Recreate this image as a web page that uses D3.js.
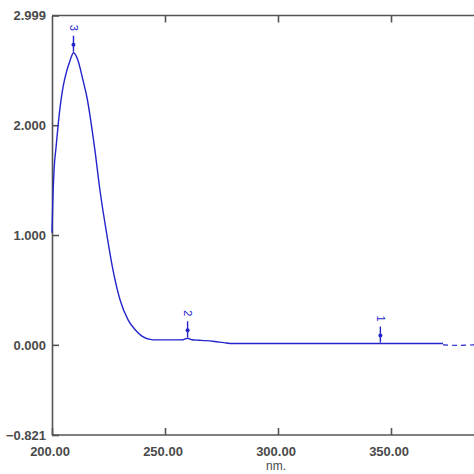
<!DOCTYPE html>
<html>
<head>
<meta charset="utf-8">
<script src="https://cdn.jsdelivr.net/npm/d3@7"></script>
<style>
  body { margin: 0; background: #fff; }
  svg { display: block; }
  .tick text { font-family: "Liberation Sans", Arial, sans-serif; font-size: 13px; font-weight: bold; fill: #4a4a4a; }
</style>
</head>
<body>
<svg id="chart" width="474" height="474"></svg>
<script>
// spectrum (wavelength nm, absorbance)
const wavelength = [200, 200.3, 200.9, 201.8, 202.7, 204.0, 204.9, 206.6, 208.0, 209.5,
  211.5, 213.7, 215.5, 216.8, 219.0, 221.2, 224.3, 227.0, 230.1, 233.6,
  236.7, 239.8, 243.4, 246, 250, 255, 258, 260, 262, 265,
  268, 272, 276, 280, 290, 300, 320, 340, 345, 360, 373];
const absorbance = [1.02, 1.27, 1.59, 1.80, 2.00, 2.23, 2.35, 2.50, 2.59, 2.66,
  2.59, 2.41, 2.25, 2.09, 1.77, 1.41, 1.00, 0.68, 0.41, 0.23,
  0.14, 0.08, 0.05, 0.045, 0.045, 0.045, 0.047, 0.06, 0.046, 0.042,
  0.038, 0.03, 0.02, 0.012, 0.012, 0.012, 0.012, 0.012, 0.012, 0.012, 0.012];

// noisy end of the scan
const tailWavelength = [373, 380, 388, 395, 402];
const tailAbsorbance = [0.0, -0.005, 0.0, -0.005, 0.0];

const peakLabels = ["1", "2", "3"];
const peakWavelength = [345.3, 260, 209.5];
const peakAbsorbance = [0.012, 0.06, 2.66];

const xTicks = [200, 250, 300, 350];
const yTicks = [-0.821, 0, 1, 2, 2.999];

const svg = d3.select("#chart");
const m = { left: 52, right: 504, top: 15.5, bottom: 435 };

const x = d3.scaleLinear().domain([200, 400]).range([m.left, m.right]);
const y = d3.scaleLinear().domain([-0.821, 2.999]).range([m.bottom, m.top]);

const axisColor = "#555";
const lineColor = "#2424cc";

// axes
const gx = svg.append("g")
    .attr("transform", `translate(0,${m.bottom})`)
    .call(d3.axisBottom(x).tickValues(xTicks).tickFormat(d3.format(".2f"))
        .tickSizeInner(-7).tickSizeOuter(0).tickPadding(12));
gx.selectAll(".tick text").attr("dx", -2.5);

const gt = svg.append("g")
    .attr("transform", `translate(0,${m.top})`)
    .call(d3.axisTop(x).tickValues(xTicks.slice(1)).tickFormat("")
        .tickSizeInner(-7).tickSizeOuter(0));

const gy = svg.append("g")
    .attr("transform", `translate(${m.left},0)`)
    .call(d3.axisLeft(y).tickValues(yTicks).tickFormat(d3.format(".3f"))
        .tickSizeInner(-7).tickSizeOuter(0).tickPadding(6));

[gx, gt, gy].forEach(g => {
    g.selectAll("path, line").attr("stroke", axisColor).attr("stroke-width", 1.6);
});
gx.select(".domain").attr("d", `M${m.left},0H474`);
gt.select(".domain").attr("d", `M${m.left},0H474`);

svg.append("text")
    .attr("x", x(300) - 2)
    .attr("y", 470)
    .attr("text-anchor", "middle")
    .attr("font-family", "Liberation Sans, Arial, sans-serif")
    .attr("font-size", 12)
    .attr("fill", "#4a4a4a")
    .text("nm.");

// spectrum
const pts = wavelength.map((w, i) => [w, absorbance[i]]);
const line = d3.line()
    .x(d => x(d[0]))
    .y(d => y(d[1]))
    .curve(d3.curveMonotoneX);

svg.append("path")
    .datum(pts)
    .attr("d", line)
    .attr("fill", "none")
    .attr("stroke", lineColor)
    .attr("stroke-width", 1.4);

svg.append("path")
    .datum(tailWavelength.map((w, i) => [w, tailAbsorbance[i]]))
    .attr("d", line)
    .attr("fill", "none")
    .attr("stroke", lineColor)
    .attr("stroke-width", 1.2)
    .attr("stroke-dasharray", "5,4");

// peak pickers
peakLabels.forEach((lab, i) => {
    const px = x(peakWavelength[i]);
    const py = y(peakAbsorbance[i]);
    const g = svg.append("g").attr("transform", `translate(${px},${py})`);
    g.append("line")
        .attr("y1", -1).attr("y2", -17)
        .attr("stroke", lineColor).attr("stroke-width", 1.4);
    g.append("circle")
        .attr("cy", -8).attr("r", 2)
        .attr("fill", lineColor);
    g.append("text")
        .attr("transform", "translate(0,-25) rotate(90)")
        .attr("text-anchor", "middle")
        .attr("dy", "0.35em")
        .attr("font-family", "Liberation Sans, Arial, sans-serif")
        .attr("font-size", 11)
        .attr("fill", lineColor)
        .text(lab);
});
</script>
</body>
</html>
